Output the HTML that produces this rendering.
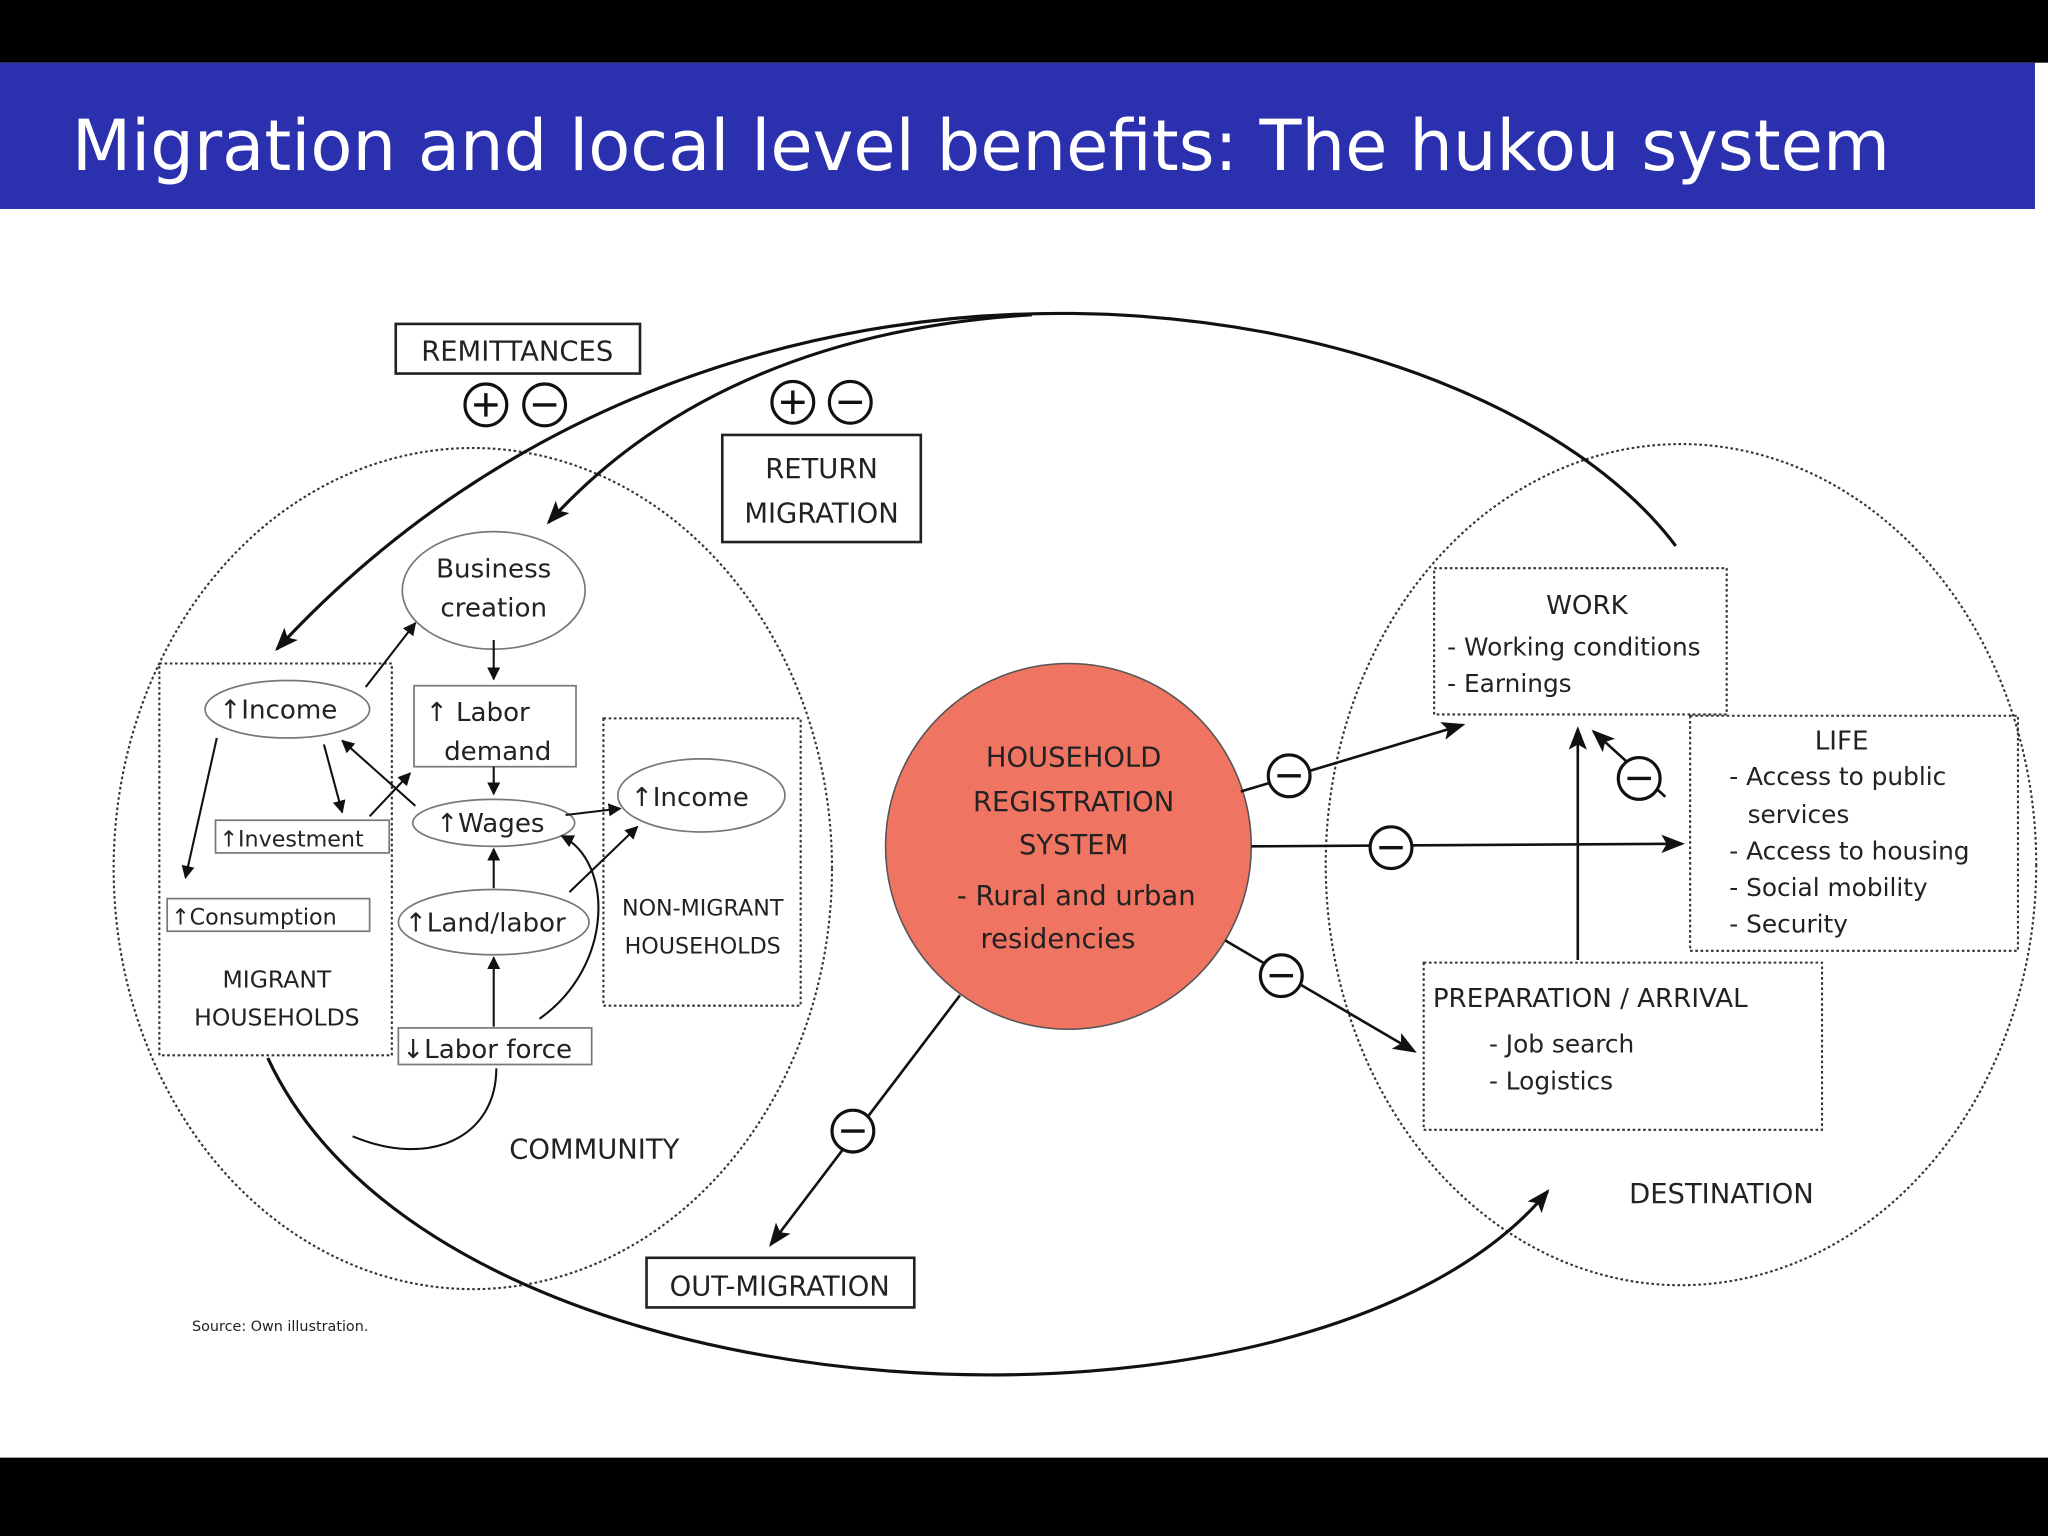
<!DOCTYPE html>
<html><head><meta charset="utf-8"><style>
html,body{margin:0;padding:0;background:#000;}
svg{display:block;}
text{font-family:"DejaVu Sans","Liberation Sans",sans-serif;fill:#222;}
</style></head><body>
<svg width="2048" height="1536" viewBox="0 0 1568 1176" preserveAspectRatio="none" xmlns="http://www.w3.org/2000/svg">
<defs>
<marker id="a" markerWidth="10" markerHeight="10" refX="9" refY="5" orient="auto" markerUnits="userSpaceOnUse"><path d="M0,0 L10,5 L0,10 z" fill="#111"/></marker>
<marker id="b" markerWidth="18" markerHeight="14" refX="16" refY="7" orient="auto" markerUnits="userSpaceOnUse"><path d="M0,0 L18,7 L0,14 L4,7 z" fill="#111"/></marker>
</defs>
<rect x="0" y="0" width="1568" height="1176" fill="#000"/>
<rect x="0" y="48" width="1568" height="1068" fill="#fff"/>
<rect x="0" y="48" width="1558" height="112" fill="#2a30ae"/>
<text x="55" y="130" font-size="54" textLength="1392" lengthAdjust="spacingAndGlyphs" style="fill:#fff">Migration and local level benefits: The hukou system</text>

<g fill="none" stroke="#333" stroke-width="1.6" stroke-dasharray="2,2">
<ellipse cx="362" cy="665" rx="275" ry="322"/>
<ellipse cx="1287" cy="662" rx="272" ry="322"/>
<rect x="122" y="508" width="178" height="300"/>
<rect x="462" y="550" width="151" height="220"/>
<rect x="1098" y="435" width="224" height="112"/>
<rect x="1294" y="548" width="251" height="180"/>
<rect x="1090" y="737" width="305" height="128"/>
</g>

<circle cx="818" cy="648" r="140" fill="#f07462" stroke="#555" stroke-width="1.2"/>
<g text-anchor="middle" font-size="21">
<text x="822" y="587">HOUSEHOLD</text>
<text x="822" y="621">REGISTRATION</text>
<text x="822" y="654">SYSTEM</text>
<text x="824" y="693">- Rural and urban</text>
<text x="810" y="726">residencies</text>
</g>

<g fill="none" stroke="#111" stroke-width="2.4">
<path d="M1283,418 C1130,215 560,120 212,497" marker-end="url(#b)"/>
<path d="M790,241 C640,250 510,300 420,400" marker-end="url(#b)"/>
<path d="M205,810 C340,1100 1010,1125 1185,912" marker-end="url(#b)"/>
</g>

<g fill="#fff" stroke="#222" stroke-width="2">
<rect x="303" y="248" width="187" height="38"/>
<rect x="553" y="333" width="152" height="82"/>
<rect x="495" y="963" width="205" height="38"/>
</g>
<g text-anchor="middle" font-size="21">
<text x="396" y="276">REMITTANCES</text>
<text x="629" y="366">RETURN</text>
<text x="629" y="400">MIGRATION</text>
<text x="597" y="992">OUT-MIGRATION</text>
</g>

<g fill="#fff" stroke="#111" stroke-width="2.4">
<circle cx="372" cy="310" r="16"/><circle cx="417" cy="310" r="16"/>
<circle cx="607" cy="308" r="16"/><circle cx="651" cy="308" r="16"/>
</g>
<g stroke="#111" stroke-width="2.6">
<path d="M363,310h18M372,301v18M408,310h18M598,308h18M607,299v18M642,308h18"/>
</g>

<g fill="#fff" stroke="#777" stroke-width="1.3">
<ellipse cx="378" cy="452" rx="70" ry="45"/>
<ellipse cx="220" cy="543" rx="63" ry="22"/>
<rect x="317" y="525" width="124" height="62"/>
<rect x="165" y="628" width="133" height="25"/>
<rect x="128" y="688" width="155" height="25"/>
<ellipse cx="378" cy="630" rx="62" ry="18"/>
<ellipse cx="378" cy="706" rx="73" ry="25"/>
<rect x="305" y="787" width="148" height="28"/>
<ellipse cx="537" cy="609" rx="64" ry="28"/>
</g>
<g font-size="20">
<text x="378" y="442" text-anchor="middle">Business</text>
<text x="378" y="472" text-anchor="middle">creation</text>
<text x="168" y="550">↑Income</text>
<text x="326" y="552">↑ Labor</text>
<text x="340" y="582">demand</text>
<text x="168" y="648" font-size="17">↑Investment</text>
<text x="131" y="708" font-size="17">↑Consumption</text>
<text x="334" y="637">↑Wages</text>
<text x="310" y="713">↑Land/labor</text>
<text x="308" y="810">↓Labor force</text>
<text x="483" y="617">↑Income</text>
<text x="538" y="701" text-anchor="middle" font-size="17">NON-MIGRANT</text>
<text x="538" y="730" text-anchor="middle" font-size="17">HOUSEHOLDS</text>
<text x="212" y="756" text-anchor="middle" font-size="18">MIGRANT</text>
<text x="212" y="785" text-anchor="middle" font-size="18">HOUSEHOLDS</text>
<text x="455" y="887" text-anchor="middle" font-size="21">COMMUNITY</text>
</g>
<g fill="none" stroke="#111" stroke-width="1.6" marker-end="url(#a)">
<path d="M378,490 V520"/>
<path d="M378,587 V608"/>
<path d="M378,680 V650"/>
<path d="M378,786 V733"/>
<path d="M280,526 L318,477"/>
<path d="M318,617 L262,567"/>
<path d="M248,570 L262,622"/>
<path d="M283,625 L314,592"/>
<path d="M166,565 L142,672"/>
<path d="M433,624 L475,619"/>
<path d="M436,683 L488,633"/>
<path d="M413,780 C470,740 470,660 430,640"/>
<path d="M270,870 C330,895 380,870 380,818" marker-end="none"/>
</g>

<g font-size="20">
<text x="1215" y="470" text-anchor="middle">WORK</text>
<text x="1108" y="502" font-size="19">- Working conditions</text>
<text x="1108" y="530" font-size="19">- Earnings</text>
<text x="1410" y="574" text-anchor="middle">LIFE</text>
<text x="1324" y="601" font-size="19">- Access to public</text>
<text x="1338" y="630" font-size="19">services</text>
<text x="1324" y="658" font-size="19">- Access to housing</text>
<text x="1324" y="686" font-size="19">- Social mobility</text>
<text x="1324" y="714" font-size="19">- Security</text>
<text x="1097" y="771">PREPARATION / ARRIVAL</text>
<text x="1140" y="806" font-size="19">- Job search</text>
<text x="1140" y="834" font-size="19">- Logistics</text>
<text x="1318" y="921" text-anchor="middle" font-size="21">DESTINATION</text>
</g>
<text x="147" y="1019" font-size="11">Source: Own illustration.</text>

<g fill="none" stroke="#111" stroke-width="2" marker-end="url(#b)">
<path d="M950,606 L1120,555"/>
<path d="M958,648 L1288,646"/>
<path d="M938,720 L1083,805"/>
<path d="M735,762 L590,953"/>
<path d="M1208,735 V558"/>
<path d="M1275,610 L1220,560"/>
</g>
<g fill="#fff" stroke="#111" stroke-width="2.4">
<circle cx="987" cy="594" r="16"/><circle cx="1065" cy="649" r="16"/>
<circle cx="981" cy="747" r="16"/><circle cx="1255" cy="596" r="16"/>
<circle cx="653" cy="866" r="16"/>
</g>
<g stroke="#111" stroke-width="2.6">
<path d="M978,594h18M1056,649h18M972,747h18M1246,596h18M644,866h18"/>
</g>
</svg>
</body></html>
